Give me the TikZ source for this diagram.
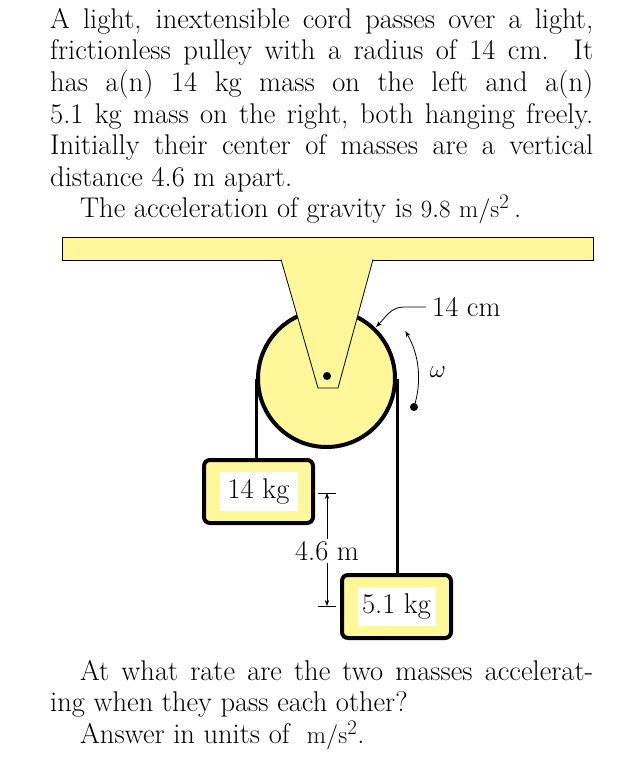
\documentclass[tikz,border=0pt]{standalone}
\usetikzlibrary{arrows.meta}
\definecolor{pyel}{RGB}{255,247,153}
\begin{document}
\begin{tikzpicture}[x=1pt,y=1pt,
  txt/.style={inner sep=0pt,font=\fontsize{28.5}{31.6}\selectfont},
  massbox/.style={draw=black,line width=4pt,fill=pyel,rounded corners=6pt,minimum width=109pt,minimum height=63pt},
  masslab/.style={fill=white,inner sep=0pt,minimum width=78pt,minimum height=39pt,font=\fontsize{28.5}{31.6}\selectfont},
  rope/.style={line width=3pt}]
\useasboundingbox (0,0) rectangle (633,-762);
% top text
\node[txt,anchor=north west] (t1) at (50,-8) {\parbox[t]{543pt}{\fontsize{28.5}{31.6}\selectfont\noindent A light, inextensible cord passes over a light,\linebreak frictionless pulley with a radius of 14 cm.\ \ It\linebreak has a(n) 14 kg mass on the left and a(n)\linebreak 5.1 kg mass on the right, both hanging freely.\linebreak Initially their center of masses are a vertical\linebreak distance 4.6 m apart.\par\hspace*{30pt}The acceleration of gravity is $9.8\ \mathrm{m/s^2}$\,.}};
% ceiling
\draw[fill=pyel,line width=0.8pt] (62,-237) rectangle (593,-260);
% pulley
\node[draw,circle,line width=4pt,fill=pyel,minimum size=137pt,inner sep=0pt] (pul) at (326.5,-378.5) {};
\draw[fill=pyel,line width=0.8pt] (281,-259.5) -- (318,-388) -- (338,-388) -- (373,-259.5);
\fill[pyel] (282,-258) rectangle (372,-262);
\fill (327,-376) circle (4pt);
% masses
\node[massbox] (m1) at (258.5,-491.5) {};
\node[masslab] (l1) at (m1) {14 kg};
\node[massbox] (m2) at (396.5,-606.5) {};
\node[masslab] (l2) at (m2) {5.1 kg};
\draw[rope] (pul.west) -- (m1.north -| pul.west);
\draw[rope] (pul.east) -- (m2.north -| pul.east);
% dimension
\coordinate (d1) at (327,-493);
\coordinate (d2) at (327,-606);
\node[txt,fill=white,inner sep=2pt] (dl) at (327,-551) {4.6 m};
\draw[line width=0.8pt] (318,-493) -- (336,-493) (318,-606) -- (336,-606);
\draw[-{Stealth[length=6pt]},line width=0.8pt] (dl.north) -- (d1);
\draw[-{Stealth[length=6pt]},line width=0.8pt] (dl.south) -- (d2);
% radius label
\node[txt,anchor=west] (rl) at (432,-307) {14 cm};
\draw[-{Stealth[length=6pt]},line width=0.8pt] ([xshift=-6pt]rl.west) -- (404,-307) to[out=180,in=45] (376,-327);
% omega
\fill (414,-407) circle (4pt);
\draw[-{Stealth[length=6pt]},line width=0.8pt] (414,-407) arc[start angle=-18,end angle=31,radius=92];
\node[txt] (om) at (438,-372) {$\omega$};
% bottom text
\node[txt,anchor=north west] (t2) at (50,-660) {\parbox[t]{543pt}{\fontsize{28.5}{31.6}\selectfont\hspace*{30pt}At what rate are the two masses accelerat-\linebreak ing when they pass each other?\par\hspace*{30pt}Answer in units of \ $\mathrm{m/s^2}$.}};
\end{tikzpicture}
\end{document}
